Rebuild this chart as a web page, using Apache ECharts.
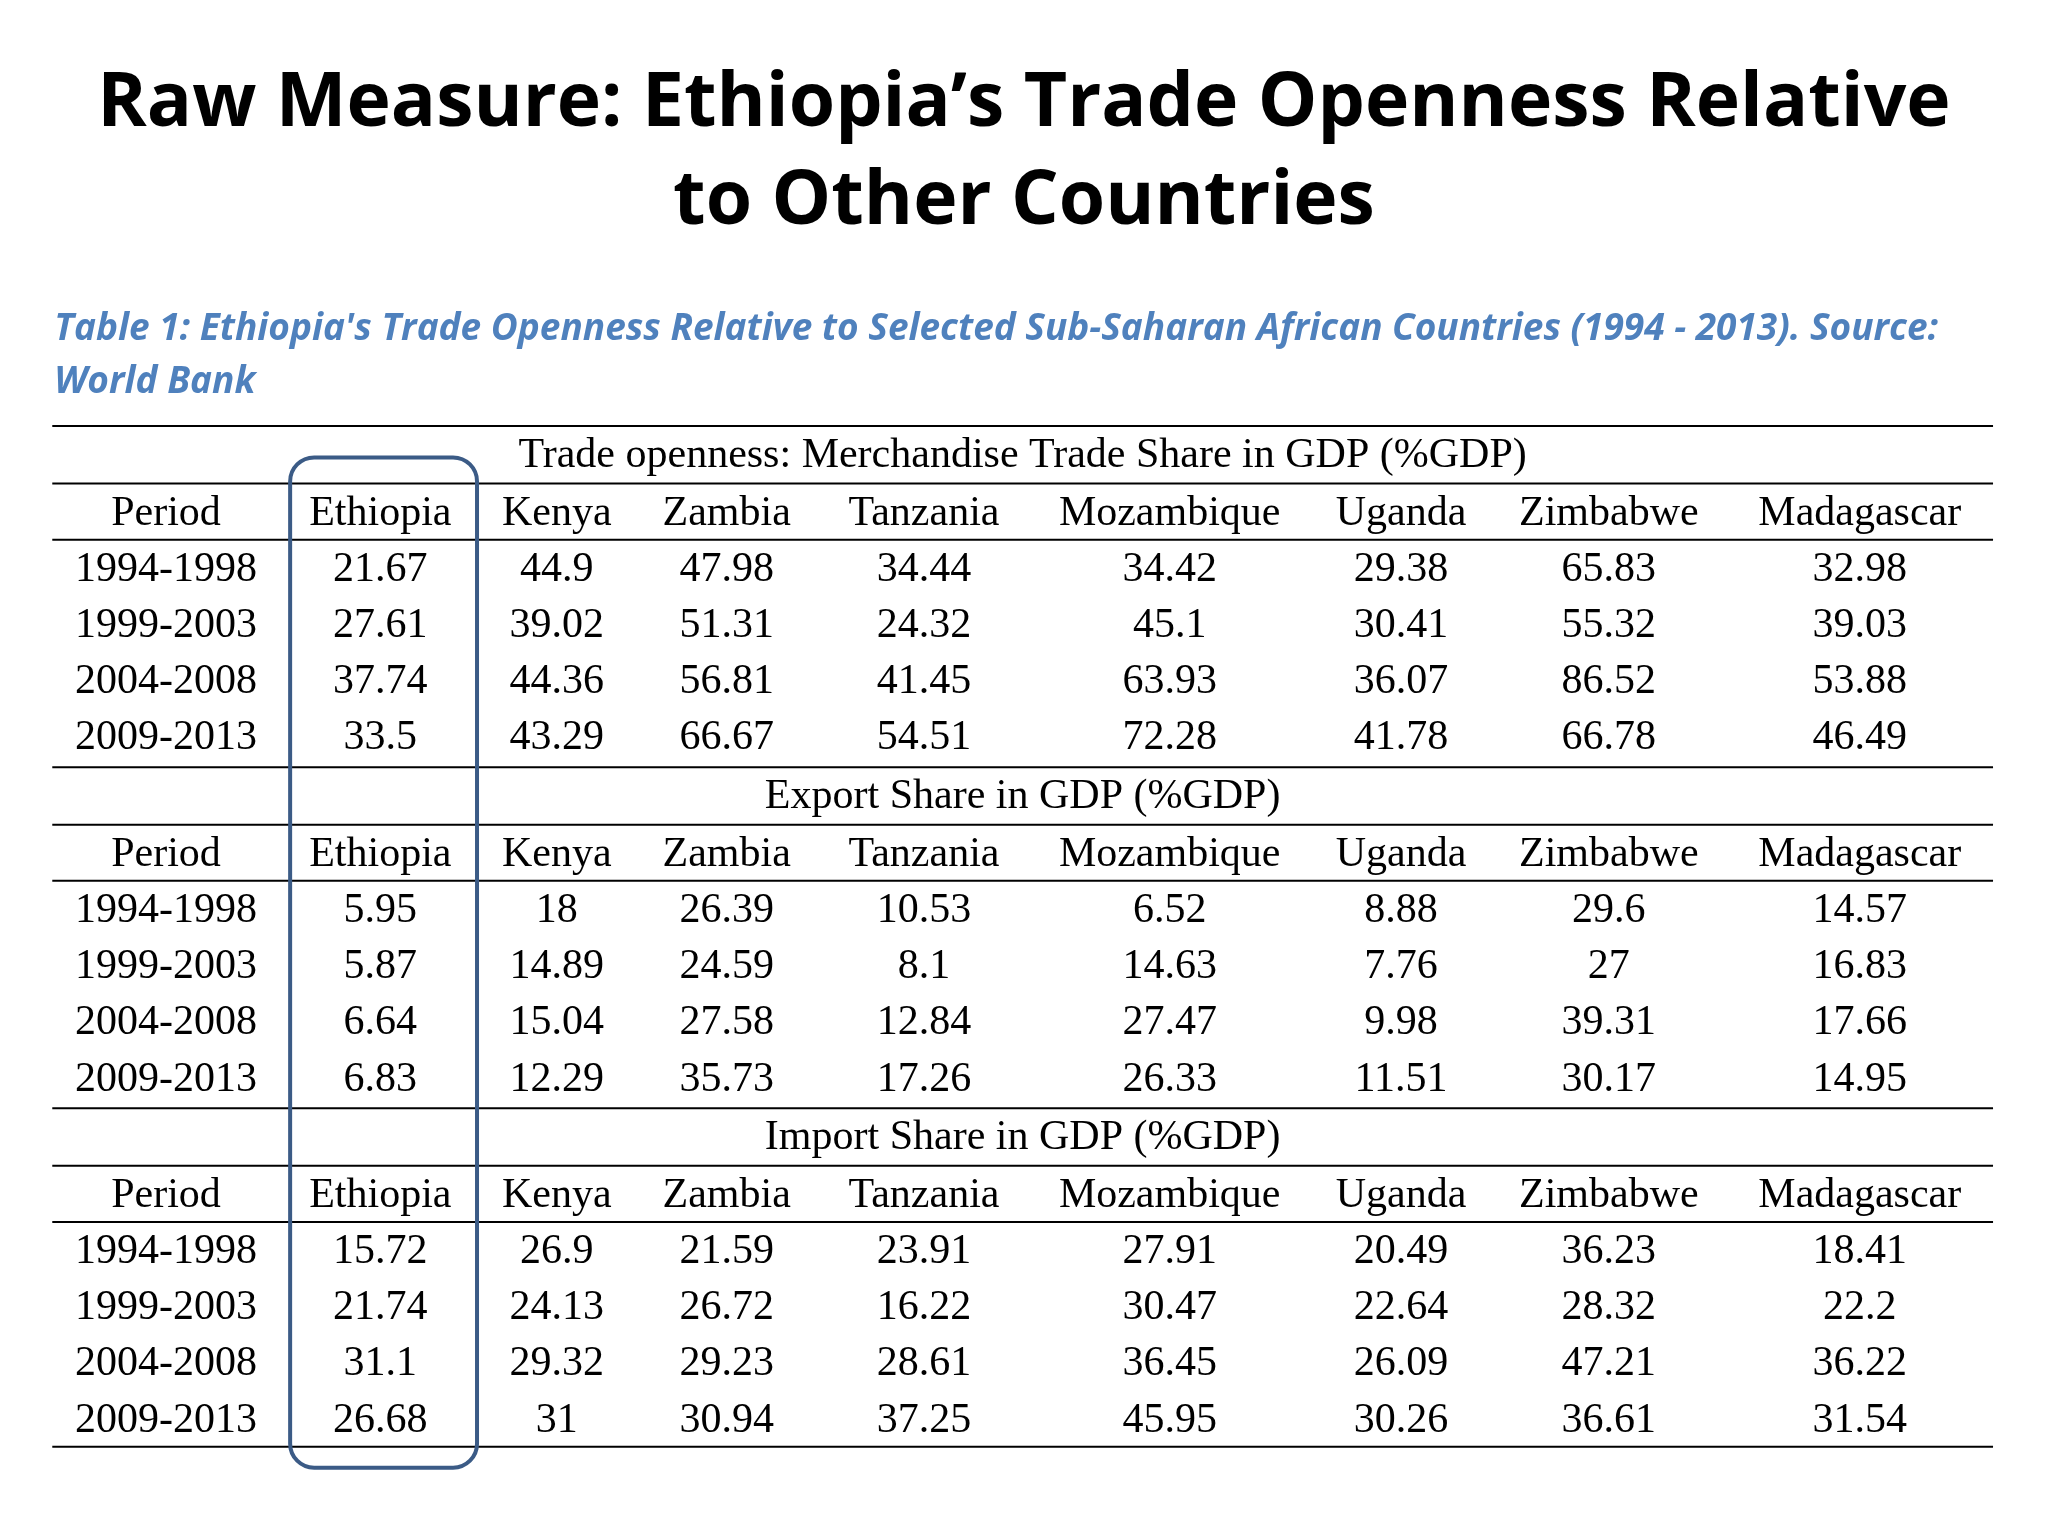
<!DOCTYPE html>
<html><head><meta charset="utf-8">
<script src="https://cdn.jsdelivr.net/npm/echarts@6/dist/echarts.min.js"></script>
<style>html,body{margin:0;padding:0;background:#fff}#c{width:2048px;height:1536px}</style>
</head><body><div id="c"></div>
<script>
const titleLines = ["Raw Measure: Ethiopia’s Trade Openness Relative", "to Other Countries"];
const captionLines = ["Table 1: Ethiopia's Trade Openness Relative to Selected Sub-Saharan African Countries (1994 - 2013). Source:", "World Bank"];
const columns = ["Period","Ethiopia","Kenya","Zambia","Tanzania","Mozambique","Uganda","Zimbabwe","Madagascar"];
const periods = ["1994-1998","1999-2003","2004-2008","2009-2013"];
const sectionTitles = ["Trade openness: Merchandise Trade Share in GDP (%GDP)","Export Share in GDP (%GDP)","Import Share in GDP (%GDP)"];
const tradeValues = [
 ["21.67","44.9","47.98","34.44","34.42","29.38","65.83","32.98"],
 ["27.61","39.02","51.31","24.32","45.1","30.41","55.32","39.03"],
 ["37.74","44.36","56.81","41.45","63.93","36.07","86.52","53.88"],
 ["33.5","43.29","66.67","54.51","72.28","41.78","66.78","46.49"]];
const exportValues = [
 ["5.95","18","26.39","10.53","6.52","8.88","29.6","14.57"],
 ["5.87","14.89","24.59","8.1","14.63","7.76","27","16.83"],
 ["6.64","15.04","27.58","12.84","27.47","9.98","39.31","17.66"],
 ["6.83","12.29","35.73","17.26","26.33","11.51","30.17","14.95"]];
const importValues = [
 ["15.72","26.9","21.59","23.91","27.91","20.49","36.23","18.41"],
 ["21.74","24.13","26.72","16.22","30.47","22.64","28.32","22.2"],
 ["31.1","29.32","29.23","28.61","36.45","26.09","47.21","36.22"],
 ["26.68","31","30.94","37.25","45.95","30.26","36.61","31.54"]];
const sections = [tradeValues, exportValues, importValues];

const S = 2048/1560*0.9955;
const colX = [127,291,426,556,707,895,1072,1231,1423].map(v=>v*S);
const L = 40*S, R = 1525*S;
const g = [];
const serif = "Liberation Serif";
const FS = 42;
const txt = (x,y,t,size,extra={}) => g.push({type:'text',x,y,style:Object.assign({text:t,fontFamily:serif,fontSize:size,fill:'#000',align:'center',verticalAlign:'middle'},extra)});
const line = (y,w=2) => g.push({type:'line',shape:{x1:L,y1:y,x2:R,y2:y},style:{stroke:'#000',lineWidth:w}});

titleLines.forEach((t,i)=>txt(1024,(80+i*75)*S,t,75,{fontFamily:'Open Sans',fontWeight:'bold'}));
captionLines.forEach((t,i)=>txt(L+2,(252+i*41)*S,t,37,{fontFamily:'Open Sans',fontStyle:'italic',fontWeight:'bold',fill:'#4f81bd',align:'left'}));

const secTop = [326,587,848];
sections.forEach((vals,s)=>{
  const t0 = secTop[s];
  line(t0*S);
  txt((L+R)/2,(t0+23)*S,sectionTitles[s],FS);
  line((t0+44)*S);
  columns.forEach((c,j)=>txt(colX[j],(t0+67)*S,c,FS));
  line((t0+87)*S);
  periods.forEach((p,i)=>{
    const y=(t0+110+i*43)*S;
    txt(colX[0],y,p,FS);
    vals[i].forEach((v,j)=>txt(colX[j+1],y,v,FS));
  });
});
line(1107*S);
g.push({type:'rect',shape:{x:222*S,y:350*S,width:143*S,height:773*S,r:24},style:{fill:'none',stroke:'#3b5b86',lineWidth:4}});

const chart = echarts.init(document.getElementById('c'));
chart.setOption({backgroundColor:'#fff',graphic:{elements:g}});
</script></body></html>
